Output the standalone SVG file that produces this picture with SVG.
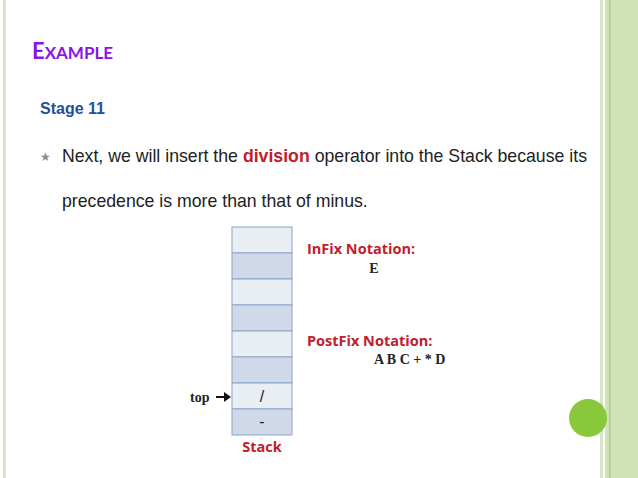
<svg xmlns="http://www.w3.org/2000/svg" width="638" height="478" viewBox="0 0 638 478">
<style>
.c1{fill:#e9eef5;stroke:#8aa4c8;stroke-width:1}
.c2{fill:#d0d9ea;stroke:#8aa4c8;stroke-width:1}
.red{font-family:"Open Sans","Liberation Sans",sans-serif;font-weight:bold;fill:#c0202a;font-size:14.5px}
.ser{font-family:"Liberation Serif",serif;font-weight:bold;font-size:14px;fill:#222}
.body{font-family:"Liberation Sans",sans-serif;font-size:17.7px;fill:#222}
</style>
<rect width="638" height="478" fill="#fff"/>
<rect x="3" y="0" width="3" height="478" fill="#d6e6c6"/>
<rect x="600" y="0" width="3" height="478" fill="#d6e6c6"/>
<rect x="605" y="0" width="33" height="478" fill="#cfe3b6"/>
<rect x="609" y="0" width="1.5" height="478" fill="#a9cc88"/>
<circle cx="588" cy="418" r="19" fill="#88c83a"/>
<g id="title"><text x="32" y="59" font-family="Lato,'Liberation Sans',sans-serif" font-weight="bold" fill="#8b12e8" font-size="22">E<tspan font-size="17">XAMPLE</tspan></text></g>
<g id="stage"><text x="40" y="114" font-family="Liberation Sans,sans-serif" font-weight="bold" font-size="16" fill="#1f4fa0">Stage 11</text></g>
<g id="bullet">
<text x="40" y="161" font-size="12" fill="#8b8b8b" font-family="DejaVu Sans,sans-serif">★</text>
<text x="62" y="162" class="body">Next, we will insert the <tspan fill="#c0202a" font-weight="bold">division</tspan> operator into the Stack because its</text>
<text x="62" y="207" class="body">precedence is more than that of minus.</text>
</g>
<g id="stack">
<rect class="c1" x="232" y="227" width="60" height="26"/>
<rect class="c2" x="232" y="253" width="60" height="26"/>
<rect class="c1" x="232" y="279" width="60" height="26"/>
<rect class="c2" x="232" y="305" width="60" height="26"/>
<rect class="c1" x="232" y="331" width="60" height="26"/>
<rect class="c2" x="232" y="357" width="60" height="26"/>
<rect class="c1" x="232" y="383" width="60" height="26"/>
<rect class="c2" x="232" y="409" width="60" height="26"/>
<text x="262" y="402" text-anchor="middle" font-family="Liberation Sans,sans-serif" font-size="16" fill="#222">/</text>
<text x="262" y="427" text-anchor="middle" font-family="Liberation Sans,sans-serif" font-size="16" fill="#222">-</text>
<text x="262" y="452" text-anchor="middle" class="red">Stack</text>
</g>
<g id="top"><text x="190" y="402" class="ser">top</text></g>
<g id="connectors"><line x1="216" y1="397" x2="226" y2="397" stroke="#111" stroke-width="2"/><path d="M224,392 L231,397 L224,402Z" fill="#111"/></g>
<g id="infix"><text x="307" y="254" class="red">InFix Notation:</text><text x="374" y="273" text-anchor="middle" class="ser">E</text></g>
<g id="postfix"><text x="307" y="346" class="red">PostFix Notation:</text><text x="374" y="364" class="ser">A B C + * D</text></g>
</svg>
